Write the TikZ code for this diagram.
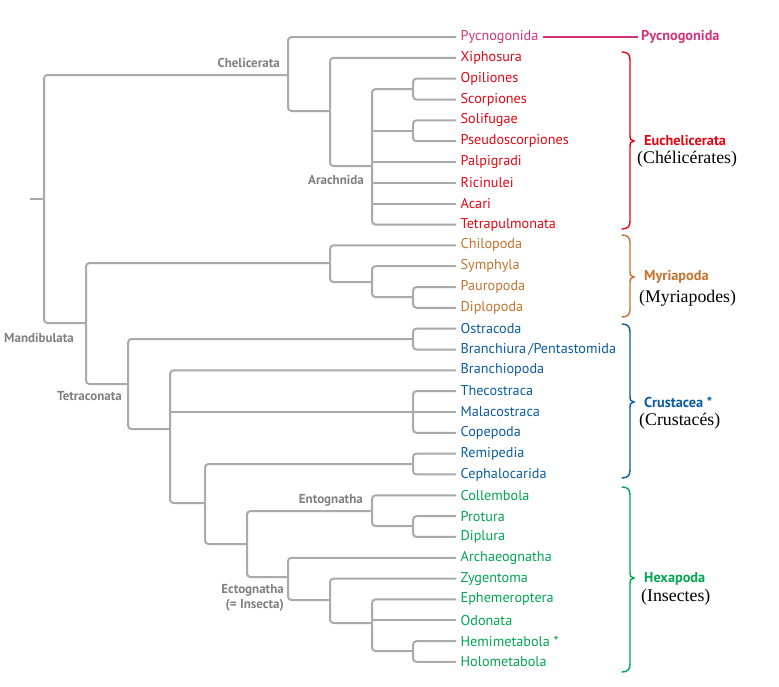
\documentclass[tikz,border=0pt]{standalone}
\usepackage{fontspec}
\setmainfont{Liberation Serif}
\newfontfamily\sansf{PT Sans}
\definecolor{cpyc}{HTML}{D1357C}
\definecolor{cchel}{HTML}{E30613}
\definecolor{cmyr}{HTML}{C4732E}
\definecolor{ccru}{HTML}{0B5C9E}
\definecolor{chex}{HTML}{00A651}
\definecolor{treegray}{HTML}{AAAAAA}
\definecolor{labgray}{HTML}{808080}
\tikzset{
  leaf/.style={anchor=west, inner xsep=4.5pt, inner ysep=0pt, font=\sansf\fontsize{14.2}{16}\selectfont},
  tree/.style={draw=treegray, line width=2pt, rounded corners=3.5pt},
  clade/.style={inner sep=0pt, text=labgray, font=\sansf\bfseries\fontsize{13}{15}\selectfont},
  grp/.style={anchor=west, inner xsep=3pt, inner ysep=0pt, font=\sansf\bfseries\fontsize{14.3}{16}\selectfont},
  fr/.style={anchor=west, inner sep=0pt, font=\fontsize{17.8}{20}\selectfont},
  brace/.style={line width=1.4pt, line cap=round},
}
\begin{document}
\begin{tikzpicture}[x=1pt, y=-1pt]
\useasboundingbox (0,0) rectangle (779,686);
% leaves
\node[leaf, text=cpyc] (pyc) at (456,37.0) {Pycnogonida};
\node[leaf, text=cchel] (xip) at (456,57.8) {Xiphosura};
\node[leaf, text=cchel] (opi) at (456,78.7) {Opiliones};
\node[leaf, text=cchel] (sco) at (456,99.5) {Scorpiones};
\node[leaf, text=cchel] (sol) at (456,120.3) {Solifugae};
\node[leaf, text=cchel] (pse) at (456,141.2) {Pseudoscorpiones};
\node[leaf, text=cchel] (pal) at (456,162.0) {Palpigradi};
\node[leaf, text=cchel] (ric) at (456,182.8) {Ricinulei};
\node[leaf, text=cchel] (aca) at (456,203.6) {Acari};
\node[leaf, text=cchel] (tet) at (456,224.5) {Tetrapulmonata};
\node[leaf, text=cmyr] (chi) at (456,245.3) {Chilopoda};
\node[leaf, text=cmyr] (sym) at (456,266.1) {Symphyla};
\node[leaf, text=cmyr] (pau) at (456,287.0) {Pauropoda};
\node[leaf, text=cmyr] (dip) at (456,307.8) {Diplopoda};
\node[leaf, text=ccru] (ost) at (456,328.6) {Ostracoda};
\node[leaf, text=ccru] (bra) at (456,349.5) {Branchiura\,/Pentastomida};
\node[leaf, text=ccru] (bpo) at (456,370.3) {Branchiopoda};
\node[leaf, text=ccru] (the) at (456,391.1) {Thecostraca};
\node[leaf, text=ccru] (mal) at (456,411.9) {Malacostraca};
\node[leaf, text=ccru] (cop) at (456,432.8) {Copepoda};
\node[leaf, text=ccru] (rem) at (456,453.6) {Remipedia};
\node[leaf, text=ccru] (cep) at (456,474.4) {Cephalocarida};
\node[leaf, text=chex] (col) at (456,495.3) {Collembola};
\node[leaf, text=chex] (pro) at (456,516.1) {Protura};
\node[leaf, text=chex] (dpl) at (456,536.9) {Diplura};
\node[leaf, text=chex] (arc) at (456,557.8) {Archaeognatha};
\node[leaf, text=chex] (zyg) at (456,578.6) {Zygentoma};
\node[leaf, text=chex] (eph) at (456,599.4) {Ephemeroptera};
\node[leaf, text=chex] (odo) at (456,620.2) {Odonata};
\node[leaf, text=chex] (hem) at (456,641.1) {Hemimetabola *};
\node[leaf, text=chex] (hol) at (456,661.9) {Holometabola};
% junctions
\coordinate (root) at (30,199);
\coordinate (R) at (44,199);
\coordinate (C) at (288,75);
\coordinate (E) at (330,111);
\coordinate (A) at (372,166);
\coordinate (OS) at (413,89);
\coordinate (SP) at (413,131);
\coordinate (M) at (86,323);
\coordinate (MY) at (330,263);
\coordinate (S1) at (372,282);
\coordinate (S2) at (413,297);
\coordinate (T) at (128,384);
\coordinate (OB) at (413,339);
\coordinate (P) at (170,429);
\coordinate (TMC) at (413,412);
\coordinate (RH) at (205,503);
\coordinate (RC) at (413,464);
\coordinate (H) at (247,544);
\coordinate (EN) at (372,511);
\coordinate (PD) at (413,526);
\coordinate (EC) at (288,577);
\coordinate (Z) at (330,600);
\coordinate (EO) at (372,623);
\coordinate (HH) at (413,651);
% tree
\draw[tree] (root) -- (R);
\draw[tree] (C) -| (R) |- (M);
\draw[tree] (pyc.west) -| (C) |- (E);
\draw[tree] (xip.west) -| (E) |- (A);
\draw[tree] (OS) -| (A) |- (tet.west);
\draw[tree] (A |- SP) -- (SP);
\draw[tree] (A |- pal.west) -- (pal.west);
\draw[tree] (A |- ric.west) -- (ric.west);
\draw[tree] (A |- aca.west) -- (aca.west);
\draw[tree] (opi.west) -| (OS) |- (sco.west);
\draw[tree] (sol.west) -| (SP) |- (pse.west);
\draw[tree] (MY) -| (M) |- (T);
\draw[tree] (chi.west) -| (MY) |- (S1);
\draw[tree] (sym.west) -| (S1) |- (S2);
\draw[tree] (pau.west) -| (S2) |- (dip.west);
\draw[tree] (OB) -| (T) |- (P);
\draw[tree] (ost.west) -| (OB) |- (bra.west);
\draw[tree] (bpo.west) -| (P) |- (RH);
\draw[tree] (P |- TMC) -- (TMC);
\draw[tree] (the.west) -| (TMC) |- (cop.west);
\draw[tree] (TMC |- mal.west) -- (mal.west);
\draw[tree] (RC) -| (RH) |- (H);
\draw[tree] (rem.west) -| (RC) |- (cep.west);
\draw[tree] (EN) -| (H) |- (EC);
\draw[tree] (col.west) -| (EN) |- (PD);
\draw[tree] (pro.west) -| (PD) |- (dpl.west);
\draw[tree] (arc.west) -| (EC) |- (Z);
\draw[tree] (zyg.west) -| (Z) |- (EO);
\draw[tree] (eph.west) -| (EO) |- (HH);
\draw[tree] (EO |- odo.west) -- (odo.west);
\draw[tree] (hem.west) -| (HH) |- (hol.west);
% clade labels
\node[clade, anchor=east] (lchel) at (280,63) {Chelicerata};
\node[clade, anchor=east] (larach) at (364,180) {Arachnida};
\node[clade, anchor=west] (lmand) at (4,338) {Mandibulata};
\node[clade, anchor=east] (ltetra) at (122,396) {Tetraconata};
\node[clade, anchor=east] (lento) at (363,500) {Entognatha};
\node[clade, anchor=east, align=right] (lecto) at (284,598) {Ectognatha\\(= Insecta)};
% right side
\node[grp, text=cpyc] (gpyc) at (638,37) {Pycnogonida};
\draw[cpyc, line width=1.2pt] (pyc.east) -- (gpyc.west);
\draw[brace, cchel] (622,52) .. controls (628,52) and (630,55) .. (630,60) -- (630,135) .. controls (630,139) and (631,141) .. (634,141) .. controls (631,141) and (630,143) .. (630,147) -- (630,221) .. controls (630,226) and (628,229) .. (622,229);
\node[grp, text=cchel] (geuch) at (641,141) {Euchelicerata};
\node[fr] (feuch) at (637,159) {(Chélicérates)};
\draw[brace, cmyr] (622,235) .. controls (628,235) and (630,238) .. (630,243) -- (630,271) .. controls (630,275) and (631,277) .. (634,277) .. controls (631,277) and (630,279) .. (630,283) -- (630,309) .. controls (630,314) and (628,317) .. (622,317);
\node[grp, text=cmyr] (gmyr) at (641,277) {Myriapoda};
\node[fr] (fmyr) at (639,298) {(Myriapodes)};
\draw[brace, ccru] (622,324) .. controls (628,324) and (630,327) .. (630,332) -- (630,396) .. controls (630,400) and (631,402) .. (634,402) .. controls (631,402) and (630,404) .. (630,408) -- (630,470) .. controls (630,475) and (628,478) .. (622,478);
\node[grp, text=ccru] (gcru) at (641,402) {Crustacea *};
\node[fr] (fcru) at (639,421) {(Crustacés)};
\draw[brace, chex] (622,487) .. controls (628,487) and (630,490) .. (630,495) -- (630,572) .. controls (630,576) and (631,578) .. (634,578) .. controls (631,578) and (630,580) .. (630,584) -- (630,664) .. controls (630,669) and (628,672) .. (622,672);
\node[grp, text=chex] (ghex) at (641,579) {Hexapoda};
\node[fr] (fhex) at (641,597) {(Insectes)};
\end{tikzpicture}
\end{document}
